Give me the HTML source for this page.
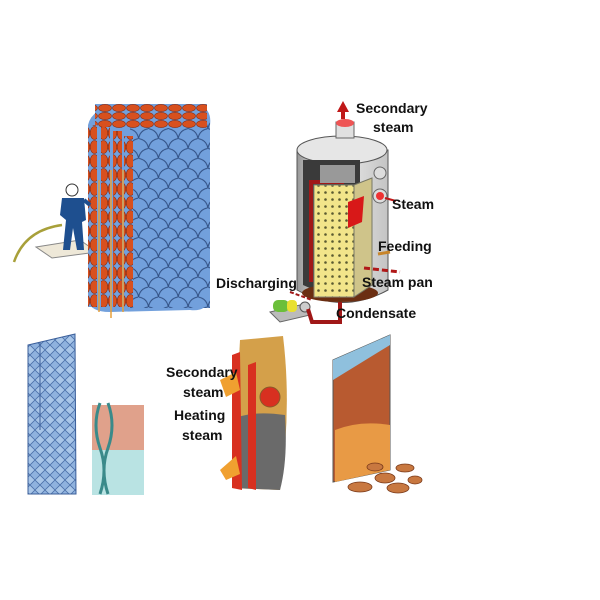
<!DOCTYPE html>
<html><head><meta charset="utf-8"><style>
html,body{margin:0;padding:0;background:#fff}
svg{display:block}
text{font-family:"Liberation Sans",sans-serif;font-weight:bold;font-size:14px;fill:#111}
</style></head><body>
<svg width="600" height="600" viewBox="0 0 600 600">
<defs>
<pattern id="mesh" width="14" height="14" patternUnits="userSpaceOnUse" patternTransform="rotate(45)">
<rect width="14" height="14" fill="#72a0dc"/>
<path d="M0 14 Q7 9 14 14 M14 0 Q9 7 14 14" stroke="#2f4d80" stroke-width="1" fill="none"/>
</pattern>
<pattern id="bead" width="9" height="14" patternUnits="userSpaceOnUse">
<rect width="9" height="14" fill="#72a0dc"/>
<ellipse cx="4.5" cy="7" rx="4.3" ry="6.5" fill="#d8501e" stroke="#8a2a10" stroke-width="0.6"/>
</pattern>
<pattern id="beadh" width="14" height="8" patternUnits="userSpaceOnUse">
<rect width="14" height="8" fill="#72a0dc"/>
<ellipse cx="7" cy="4" rx="6.5" ry="3.6" fill="#d8501e" stroke="#8a2a10" stroke-width="0.6"/>
</pattern>
<pattern id="yel" width="7" height="7" patternUnits="userSpaceOnUse">
<rect width="7" height="7" fill="#f2e58a"/>
<circle cx="3.5" cy="3.5" r="1.3" fill="#5a5a30"/>
</pattern>
<pattern id="bq" width="10" height="10" patternUnits="userSpaceOnUse">
<rect width="10" height="10" fill="#a9c6e8"/>
<path d="M0 5 L5 0 L10 5 L5 10Z" fill="#8fb2de" stroke="#4a6fa8" stroke-width="0.8"/>
</pattern>
<linearGradient id="cyl" x1="0" x2="1">
<stop offset="0" stop-color="#999"/><stop offset="0.35" stop-color="#f2f2f2"/><stop offset="1" stop-color="#c4c4c4"/>
</linearGradient>
</defs>

<!-- hose -->
<path d="M14 262 Q25 230 62 225" stroke="#a8a03a" stroke-width="2.5" fill="none"/>
<!-- platform -->
<polygon points="36,247 80,240 97,252 52,258" fill="#eee8d8" stroke="#888" stroke-width="1"/>
<!-- big block -->
<path d="M88 125 Q92 108 118 105 L200 105 Q212 110 210 125 L210 300 Q205 312 190 310 L110 312 Q90 312 88 300Z" fill="#72a0dc"/>
<rect x="130" y="122" width="80" height="186" fill="url(#mesh)"/>
<rect x="95" y="104" width="112" height="24" fill="url(#beadh)"/>
<rect x="88" y="125" width="9" height="182" fill="url(#bead)"/>
<rect x="101" y="127" width="9" height="180" fill="url(#bead)"/>
<rect x="113" y="131" width="9" height="176" fill="url(#bead)"/>
<rect x="124" y="136" width="9" height="171" fill="url(#bead)"/>
<g stroke="#e8a03a" stroke-width="1.5"><line x1="99" y1="180" x2="99" y2="312"/><line x1="111" y1="170" x2="111" y2="318"/><line x1="123" y1="170" x2="123" y2="312"/></g>
<!-- man -->
<circle cx="72" cy="190" r="6" fill="#fff" stroke="#333"/>
<path d="M62 198 L84 198 L86 220 L82 222 L84 250 L77 250 L73 228 L70 250 L63 250 L66 220 L60 215Z" fill="#1e4f8f"/>
<line x1="84" y1="200" x2="90" y2="205" stroke="#1e4f8f" stroke-width="4"/>

<!-- vessel -->
<path d="M297 150 L297 290 Q342 315 388 290 L388 150Z" fill="url(#cyl)" stroke="#555"/>
<ellipse cx="342" cy="150" rx="45" ry="14" fill="#e6e6e6" stroke="#555"/>
<path d="M303 160 L303 285 Q330 298 360 295 L360 160Z" fill="#3a3a3a"/>
<ellipse cx="340" cy="293" rx="38" ry="9" fill="#6b2e12"/>
<rect x="309" y="182" width="4" height="100" fill="#a01818"/>
<rect x="309" y="180" width="35" height="4" fill="#a01818"/>
<rect x="320" y="165" width="35" height="18" fill="#999"/>
<rect x="314" y="185" width="40" height="112" fill="url(#yel)" stroke="#887" />
<polygon points="354,185 372,178 372,285 354,297" fill="#cfc48a" stroke="#776"/>
<polygon points="348,202 364,196 362,222 348,228" fill="#d81818"/>
<rect x="336" y="122" width="18" height="16" fill="#e0e0e0" stroke="#666"/>
<ellipse cx="345" cy="123" rx="9" ry="4" fill="#e55"/>
<circle cx="380" cy="173" r="6" fill="#ddd" stroke="#666"/>
<circle cx="380" cy="196" r="7" fill="#ddd" stroke="#666"/><circle cx="380" cy="196" r="4" fill="#e33"/>
<!-- arrows -->
<polygon points="337,112 343,101 349,112 345,112 345,119 341,119 341,112" fill="#c01818"/>
<line x1="385" y1="198" x2="396" y2="201" stroke="#c01818" stroke-width="2"/>
<line x1="364" y1="268" x2="400" y2="272" stroke="#b01818" stroke-width="3" stroke-dasharray="6 3"/>
<line x1="378" y1="254" x2="390" y2="252" stroke="#c8852a" stroke-width="3"/>
<!-- pump -->
<polygon points="270,312 300,305 310,315 280,322" fill="#bbb" stroke="#666"/>
<rect x="273" y="300" width="16" height="12" rx="5" fill="#6bbf3a"/>
<rect x="287" y="300" width="10" height="12" rx="4" fill="#e8e030"/>
<circle cx="305" cy="307" r="5" fill="#ccc" stroke="#555"/>
<path d="M308 309 L312 322 L340 322 L340 302" stroke="#a01818" stroke-width="4" fill="none"/>
<line x1="290" y1="292" x2="312" y2="300" stroke="#a01818" stroke-width="2" stroke-dasharray="4 2"/>

<text x="356" y="113">Secondary</text>
<text x="373" y="132">steam</text>
<text x="392" y="209">Steam</text>
<text x="378" y="251">Feeding</text>
<text x="216" y="288" font-size="13">Discharging</text>
<text x="362" y="287">Steam pan</text>
<text x="336" y="318">Condensate</text>

<!-- bottom left panel -->
<polygon points="28,345 75,334 76,494 28,494" fill="url(#bq)" stroke="#3b5f9a"/>
<line x1="40" y1="342" x2="40" y2="430" stroke="#3b5f9a"/>
<rect x="92" y="405" width="52" height="45" fill="#d8896e" opacity="0.8"/>
<rect x="92" y="450" width="52" height="45" fill="#a8dcdc" opacity="0.8"/>
<path d="M100 403 Q92 425 100 448 Q108 470 100 494 M108 403 Q116 425 108 448 Q100 470 108 494" stroke="#3a8a8a" stroke-width="3" fill="none"/>

<!-- middle -->
<path d="M240 340 L283 336 Q292 410 280 490 L232 488Z" fill="#d4a04a"/>
<path d="M232 420 Q250 410 285 415 Q288 460 280 490 L232 488Z" fill="#6a6a6a"/>
<path d="M232 355 L240 352 L242 490 L232 488Z" fill="#d83020"/>
<path d="M248 365 L256 362 L256 490 L248 488Z" fill="#d83020"/>
<circle cx="270" cy="397" r="10" fill="#d83020" stroke="#8a5a2a"/>
<polygon points="220,380 236,372 240,390 226,397" fill="#f0a030"/>
<polygon points="220,470 236,456 240,474 226,480" fill="#f0a030"/>
<text x="166" y="377">Secondary</text>
<text x="183" y="397">steam</text>
<text x="174" y="420">Heating</text>
<text x="182" y="440">steam</text>

<!-- right -->
<polygon points="333,360 390,335 390,470 333,482" fill="#b85a30" stroke="#555"/>
<polygon points="333,360 390,335 390,345 333,380" fill="#8fc0dd"/>
<path d="M335 430 Q360 420 390 425 L390 470 L335 482Z" fill="#e89a45"/>
<g fill="#c87840" stroke="#7a3a1a" stroke-width="0.8">
<ellipse cx="360" cy="487" rx="12" ry="5"/><ellipse cx="385" cy="478" rx="10" ry="5"/>
<ellipse cx="405" cy="468" rx="9" ry="4"/><ellipse cx="398" cy="488" rx="11" ry="5"/>
<ellipse cx="415" cy="480" rx="7" ry="4"/><ellipse cx="375" cy="467" rx="8" ry="4"/>
</g>
</svg>
</body></html>
